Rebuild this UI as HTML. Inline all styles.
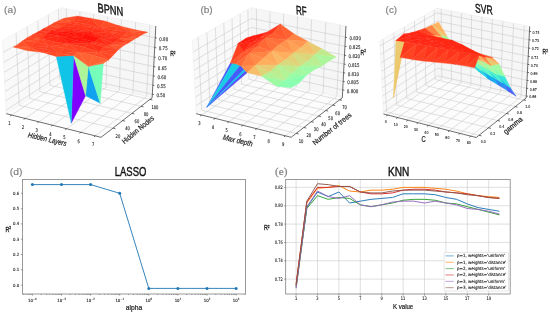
<!DOCTYPE html>
<html><head><meta charset="utf-8"><title>Model hyperparameter tuning</title>
<style>
html,body{margin:0;padding:0;background:#fff;}
svg{display:block;font-family:"Liberation Sans",sans-serif;}
.tk{font-family:"DejaVu Sans","Liberation Sans",sans-serif;fill:#222;stroke:#222;stroke-width:0.12px;}
.ttl{font-family:"Liberation Sans",sans-serif;fill:#111;}
.lab{font-family:"Liberation Sans",sans-serif;fill:#838383;stroke:#838383;stroke-width:0.2px;}
.ax{font-family:"Liberation Sans",sans-serif;fill:#222;}
</style></head><body>
<svg width="550" height="313" viewBox="0 0 550 313">
<rect width="550" height="313" fill="#fff"/>
<g id="pa">
<polygon points="6.26,113.73 61.87,77.33 60.98,7.64 2.4,40.5" fill="#f9f9f9"/>
<polygon points="61.87,77.33 152.17,97.7 155.8,26 60.98,7.64" fill="#f6f6f6"/>
<polygon points="6.26,113.73 101.09,137.32 152.17,97.7 61.87,77.33" fill="#fcfcfc"/>
<g fill="none" stroke="#c2c2c2" stroke-width="0.5">
<polyline points="11.62,115.06 66.98,78.48 66.33,8.68"/>
<polyline points="25.12,118.42 79.87,81.39 79.84,11.3"/>
<polyline points="38.79,121.82 92.91,84.33 93.52,13.95"/>
<polyline points="52.64,125.27 106.1,87.31 107.37,16.63"/>
<polyline points="66.66,128.76 119.46,90.32 121.4,19.34"/>
<polyline points="80.88,132.29 132.97,93.37 135.6,22.09"/>
<polyline points="95.27,135.87 146.65,96.46 149.99,24.88"/>
<polyline points="112.99,128.09 19.19,105.27 16.06,32.84"/>
<polyline points="122.63,120.61 29.67,98.4 27.11,26.64"/>
<polyline points="132.01,113.34 39.88,91.72 37.86,20.61"/>
<polyline points="141.13,106.27 49.82,85.21 48.32,14.74"/>
<polyline points="150.01,99.38 59.51,78.87 58.5,9.03"/>
<polyline points="6.08,110.18 61.83,73.93 152.35,94.22"/>
<polyline points="5.59,100.89 61.71,65.07 152.81,85.11"/>
<polyline points="5.09,91.47 61.6,56.09 153.28,75.89"/>
<polyline points="4.59,81.93 61.48,47.01 153.75,66.54"/>
<polyline points="4.08,72.27 61.36,37.81 154.23,57.08"/>
<polyline points="3.56,62.47 61.24,28.5 154.71,47.49"/>
<polyline points="3.04,52.53 61.12,19.06 155.2,37.77"/>
<polyline points="6.26,113.73 61.87,77.33 152.17,97.7" stroke="#ebebeb"/>
<polyline points="61.87,77.33 60.98,7.64" stroke="#ebebeb"/>
<polyline points="6.26,113.73 2.4,40.5 60.98,7.64 155.8,26" stroke="#ebebeb"/>
</g>
<g stroke-width="0.35" stroke-linejoin="round"><polygon points="58.94,20.54 72.47,21.78 63.96,18.25" fill="#ff532a" stroke="#ff532a"/>
<polygon points="72.47,21.78 77.41,16.05 63.96,18.25" fill="#ff4d27" stroke="#ff4d27"/>
<polygon points="53.86,23.08 72.47,21.78 58.94,20.54" fill="#ff562c" stroke="#ff562c"/>
<polygon points="72.47,21.78 91.1,18.38 77.41,16.05" fill="#ff3e1f" stroke="#ff3e1f"/>
<polygon points="53.86,23.08 67.44,23.08 72.47,21.78" fill="#ff4a26" stroke="#ff4a26"/>
<polygon points="72.47,21.78 86.19,24.01 91.1,18.38" fill="#ff3b1e" stroke="#ff3b1e"/>
<polygon points="48.72,25.92 62.36,27.37 53.86,23.08" fill="#ff4a26" stroke="#ff4a26"/>
<polygon points="86.19,24.01 100.06,28.03 91.1,18.38" fill="#ff3b1e" stroke="#ff3b1e"/>
<polygon points="81.23,25.8 86.19,24.01 72.47,21.78" fill="#ff3e1f" stroke="#ff3e1f"/>
<polygon points="62.36,27.37 67.44,23.08 53.86,23.08" fill="#ff4422" stroke="#ff4422"/>
<polygon points="100.06,28.03 104.95,21.09 91.1,18.38" fill="#ff4724" stroke="#ff4724"/>
<polygon points="67.44,23.08 81.23,25.8 72.47,21.78" fill="#ff3b1e" stroke="#ff3b1e"/>
<polygon points="81.23,25.8 100.06,28.03 86.19,24.01" fill="#ff3e1f" stroke="#ff3e1f"/>
<polygon points="100.06,28.03 118.93,25.73 104.95,21.09" fill="#ff4d27" stroke="#ff4d27"/>
<polygon points="43.5,28.84 62.36,27.37 48.72,25.92" fill="#ff4724" stroke="#ff4724"/>
<polygon points="62.36,27.37 81.23,25.8 67.44,23.08" fill="#ff381c" stroke="#ff381c"/>
<polygon points="100.06,28.03 114.13,30.47 118.93,25.73" fill="#ff4422" stroke="#ff4422"/>
<polygon points="81.23,25.8 95.2,28.7 100.06,28.03" fill="#ff381c" stroke="#ff381c"/>
<polygon points="62.36,27.37 76.2,29.87 81.23,25.8" fill="#ff3219" stroke="#ff3219"/>
<polygon points="43.5,28.84 57.19,29.78 62.36,27.37" fill="#ff4121" stroke="#ff4121"/>
<polygon points="109.32,32.87 114.13,30.47 100.06,28.03" fill="#ff3b1e" stroke="#ff3b1e"/>
<polygon points="114.13,30.47 128.44,31.21 118.93,25.73" fill="#ff4724" stroke="#ff4724"/>
<polygon points="128.44,31.21 133.1,29.22 118.93,25.73" fill="#ff532a" stroke="#ff532a"/>
<polygon points="95.2,28.7 109.32,32.87 100.06,28.03" fill="#ff351b" stroke="#ff351b"/>
<polygon points="76.2,29.87 90.23,31.87 81.23,25.8" fill="#ff351b" stroke="#ff351b"/>
<polygon points="90.23,31.87 95.2,28.7 81.23,25.8" fill="#ff351b" stroke="#ff351b"/>
<polygon points="71.1,31.68 76.2,29.87 62.36,27.37" fill="#ff2914" stroke="#ff2914"/>
<polygon points="38.21,31.75 51.93,31.49 43.5,28.84" fill="#ff351b" stroke="#ff351b"/>
<polygon points="57.19,29.78 71.1,31.68 62.36,27.37" fill="#ff2c16" stroke="#ff2c16"/>
<polygon points="51.93,31.49 57.19,29.78 43.5,28.84" fill="#ff351b" stroke="#ff351b"/>
<polygon points="128.44,31.21 147.45,32.3 133.1,29.22" fill="#ff562c" stroke="#ff562c"/>
<polygon points="109.32,32.87 128.44,31.21 114.13,30.47" fill="#ff3e1f" stroke="#ff3e1f"/>
<polygon points="90.23,31.87 109.32,32.87 95.2,28.7" fill="#ff2f18" stroke="#ff2f18"/>
<polygon points="71.1,31.68 90.23,31.87 76.2,29.87" fill="#ff2914" stroke="#ff2914"/>
<polygon points="32.84,34.65 51.93,31.49 38.21,31.75" fill="#ff351b" stroke="#ff351b"/>
<polygon points="51.93,31.49 71.1,31.68 57.19,29.78" fill="#ff2211" stroke="#ff2211"/>
<polygon points="128.44,31.21 142.87,34.31 147.45,32.3" fill="#ff4d27" stroke="#ff4d27"/>
<polygon points="109.32,32.87 123.65,35.15 128.44,31.21" fill="#ff3e1f" stroke="#ff3e1f"/>
<polygon points="90.23,31.87 104.41,36.59 109.32,32.87" fill="#ff3219" stroke="#ff3219"/>
<polygon points="71.1,31.68 85.2,33.46 90.23,31.87" fill="#ff2211" stroke="#ff2211"/>
<polygon points="51.93,31.49 65.92,34.2 71.1,31.68" fill="#ff190d" stroke="#ff190d"/>
<polygon points="32.84,34.65 46.6,33.69 51.93,31.49" fill="#ff351b" stroke="#ff351b"/>
<polygon points="104.41,36.59 118.81,38.75 109.32,32.87" fill="#ff351b" stroke="#ff351b"/>
<polygon points="118.81,38.75 123.65,35.15 109.32,32.87" fill="#ff381c" stroke="#ff381c"/>
<polygon points="138.2,37.02 142.87,34.31 128.44,31.21" fill="#ff4d27" stroke="#ff4d27"/>
<polygon points="123.65,35.15 138.2,37.02 128.44,31.21" fill="#ff4a26" stroke="#ff4a26"/>
<polygon points="99.48,37.88 104.41,36.59 90.23,31.87" fill="#ff2914" stroke="#ff2914"/>
<polygon points="85.2,33.46 99.48,37.88 90.23,31.87" fill="#ff1c0e" stroke="#ff1c0e"/>
<polygon points="27.4,37.6 41.26,38.65 32.84,34.65" fill="#ff4724" stroke="#ff4724"/>
<polygon points="80.09,37.95 85.2,33.46 71.1,31.68" fill="#ff190d" stroke="#ff190d"/>
<polygon points="65.92,34.2 80.09,37.95 71.1,31.68" fill="#ff190d" stroke="#ff190d"/>
<polygon points="41.26,38.65 46.6,33.69 32.84,34.65" fill="#ff4121" stroke="#ff4121"/>
<polygon points="60.65,36.01 65.92,34.2 51.93,31.49" fill="#ff1309" stroke="#ff1309"/>
<polygon points="46.6,33.69 60.65,36.01 51.93,31.49" fill="#ff190d" stroke="#ff190d"/>
<polygon points="118.81,38.75 138.2,37.02 123.65,35.15" fill="#ff4422" stroke="#ff4422"/>
<polygon points="99.48,37.88 118.81,38.75 104.41,36.59" fill="#ff2c16" stroke="#ff2c16"/>
<polygon points="80.09,37.95 99.48,37.88 85.2,33.46" fill="#ff1309" stroke="#ff1309"/>
<polygon points="21.91,41.44 41.26,38.65 27.4,37.6" fill="#ff4724" stroke="#ff4724"/>
<polygon points="60.65,36.01 80.09,37.95 65.92,34.2" fill="#ff1309" stroke="#ff1309"/>
<polygon points="41.26,38.65 60.65,36.01 46.6,33.69" fill="#ff2914" stroke="#ff2914"/>
<polygon points="99.48,37.88 113.91,42.45 118.81,38.75" fill="#ff2914" stroke="#ff2914"/>
<polygon points="118.81,38.75 133.46,39.78 138.2,37.02" fill="#ff562c" stroke="#ff562c"/>
<polygon points="80.09,37.95 94.43,42.07 99.48,37.88" fill="#ff1309" stroke="#ff1309"/>
<polygon points="21.91,41.44 35.8,41.74 41.26,38.65" fill="#ff4a26" stroke="#ff4a26"/>
<polygon points="60.65,36.01 74.91,40.15 80.09,37.95" fill="#ff1309" stroke="#ff1309"/>
<polygon points="41.26,38.65 55.37,42.11 60.65,36.01" fill="#ff2914" stroke="#ff2914"/>
<polygon points="113.91,42.45 128.64,42.66 118.81,38.75" fill="#ff381c" stroke="#ff381c"/>
<polygon points="108.95,45.22 113.91,42.45 99.48,37.88" fill="#ff3219" stroke="#ff3219"/>
<polygon points="128.64,42.66 133.46,39.78 118.81,38.75" fill="#ff4d27" stroke="#ff4d27"/>
<polygon points="94.43,42.07 108.95,45.22 99.48,37.88" fill="#ff2914" stroke="#ff2914"/>
<polygon points="16.36,45.4 30.33,47.14 21.91,41.44" fill="#ff5029" stroke="#ff5029"/>
<polygon points="89.34,43.12 94.43,42.07 80.09,37.95" fill="#ff1309" stroke="#ff1309"/>
<polygon points="30.33,47.14 35.8,41.74 21.91,41.44" fill="#ff4724" stroke="#ff4724"/>
<polygon points="50,46.24 55.37,42.11 41.26,38.65" fill="#ff3e1f" stroke="#ff3e1f"/>
<polygon points="74.91,40.15 89.34,43.12 80.09,37.95" fill="#ff1309" stroke="#ff1309"/>
<polygon points="35.8,41.74 50,46.24 41.26,38.65" fill="#ff4422" stroke="#ff4422"/>
<polygon points="55.37,42.11 69.66,44.05 60.65,36.01" fill="#ff2613" stroke="#ff2613"/>
<polygon points="69.66,44.05 74.91,40.15 60.65,36.01" fill="#ff1c0e" stroke="#ff1c0e"/>
<polygon points="13.53,47 30.33,47.14 16.36,45.4" fill="#ff5029" stroke="#ff5029"/>
<polygon points="108.95,45.22 128.64,42.66 113.91,42.45" fill="#ff4121" stroke="#ff4121"/>
<polygon points="89.34,43.12 108.95,45.22 94.43,42.07" fill="#ff2c16" stroke="#ff2c16"/>
<polygon points="50,46.24 69.66,44.05 55.37,42.11" fill="#ff3b1e" stroke="#ff3b1e"/>
<polygon points="30.33,47.14 50,46.24 35.8,41.74" fill="#ff4121" stroke="#ff4121"/>
<polygon points="69.66,44.05 89.34,43.12 74.91,40.15" fill="#ff1f10" stroke="#ff1f10"/>
<polygon points="13.53,47 27.61,50.68 30.33,47.14" fill="#ff592d" stroke="#ff592d"/>
<polygon points="71.29,123.2 85.58,95.8 73.56,55.4" fill="#8000ff" stroke="#8000ff"/>
<polygon points="108.95,45.22 123.75,45.6 128.64,42.66" fill="#ff5029" stroke="#ff5029"/>
<polygon points="89.34,43.12 103.94,47.08 108.95,45.22" fill="#ff381c" stroke="#ff381c"/>
<polygon points="30.33,47.14 44.51,48.7 50,46.24" fill="#ff3e1f" stroke="#ff3e1f"/>
<polygon points="50,46.24 64.33,47.71 69.66,44.05" fill="#ff4422" stroke="#ff4422"/>
<polygon points="69.66,44.05 84.15,46.97 89.34,43.12" fill="#ff3219" stroke="#ff3219"/>
<polygon points="27.61,50.68 41.8,52.15 30.33,47.14" fill="#ff532a" stroke="#ff532a"/>
<polygon points="56.26,56.5 71.29,123.2 73.56,55.4" fill="#0fc4e7" stroke="#0fc4e7"/>
<polygon points="41.8,52.15 44.51,48.7 30.33,47.14" fill="#ff4121" stroke="#ff4121"/>
<polygon points="103.94,47.08 118.77,49.29 108.95,45.22" fill="#ff4a26" stroke="#ff4a26"/>
<polygon points="118.77,49.29 123.75,45.6 108.95,45.22" fill="#ff532a" stroke="#ff532a"/>
<polygon points="98.8,52.25 103.94,47.08 89.34,43.12" fill="#ff2f18" stroke="#ff2f18"/>
<polygon points="84.15,46.97 98.8,52.25 89.34,43.12" fill="#ff3219" stroke="#ff3219"/>
<polygon points="58.96,53.23 64.33,47.71 50,46.24" fill="#ff4724" stroke="#ff4724"/>
<polygon points="44.51,48.7 58.96,53.23 50,46.24" fill="#ff4121" stroke="#ff4121"/>
<polygon points="78.89,52.28 84.15,46.97 69.66,44.05" fill="#ff4121" stroke="#ff4121"/>
<polygon points="64.33,47.71 78.89,52.28 69.66,44.05" fill="#ff4422" stroke="#ff4422"/>
<polygon points="41.8,52.15 58.96,53.23 44.51,48.7" fill="#ff4121" stroke="#ff4121"/>
<polygon points="98.8,52.25 118.77,49.29 103.94,47.08" fill="#ff4121" stroke="#ff4121"/>
<polygon points="78.89,52.28 98.8,52.25 84.15,46.97" fill="#ff4422" stroke="#ff4422"/>
<polygon points="58.96,53.23 78.89,52.28 64.33,47.71" fill="#ff4422" stroke="#ff4422"/>
<polygon points="85.58,95.8 100.2,103.3 88.33,66.3" fill="#10a2f0" stroke="#10a2f0"/>
<polygon points="41.8,52.15 56.26,56.5 58.96,53.23" fill="#ff4a26" stroke="#ff4a26"/>
<polygon points="78.89,52.28 93.63,55.41 98.8,52.25" fill="#ff4d27" stroke="#ff4d27"/>
<polygon points="98.8,52.25 113.68,54.8 118.77,49.29" fill="#ff4724" stroke="#ff4724"/>
<polygon points="58.96,53.23 73.56,55.4 78.89,52.28" fill="#ff4a26" stroke="#ff4a26"/>
<polygon points="85.58,95.8 88.33,66.3 73.56,55.4" fill="#aef498" stroke="#aef498"/>
<polygon points="56.26,56.5 73.56,55.4 58.96,53.23" fill="#ff4d27" stroke="#ff4d27"/>
<polygon points="88.33,66.3 93.63,55.41 78.89,52.28" fill="#ff6232" stroke="#ff6232"/>
<polygon points="73.56,55.4 88.33,66.3 78.89,52.28" fill="#ff6232" stroke="#ff6232"/>
<polygon points="108.54,59.91 113.68,54.8 98.8,52.25" fill="#ff4724" stroke="#ff4724"/>
<polygon points="93.63,55.41 108.54,59.91 98.8,52.25" fill="#ff4d27" stroke="#ff4d27"/>
<polygon points="100.2,103.3 103.36,63.4 88.33,66.3" fill="#74feba" stroke="#74feba"/>
<polygon points="88.33,66.3 108.54,59.91 93.63,55.41" fill="#ff6232" stroke="#ff6232"/>
<polygon points="88.33,66.3 103.36,63.4 108.54,59.91" fill="#ff6b37" stroke="#ff6b37"/></g>
<g fill="none" stroke="#303030" stroke-width="0.7">
<polyline points="6.26,113.73 101.09,137.32 152.17,97.7 155.8,26"/>
<polyline points="11.62,115.06 10.13,116.04"/>
<polyline points="25.12,118.42 23.64,119.42"/>
<polyline points="38.79,121.82 37.33,122.83"/>
<polyline points="52.64,125.27 51.2,126.29"/>
<polyline points="66.66,128.76 65.24,129.79"/>
<polyline points="80.88,132.29 79.47,133.34"/>
<polyline points="95.27,135.87 93.89,136.94"/>
<polyline points="112.99,128.09 115.44,128.69"/>
<polyline points="122.63,120.61 125.06,121.19"/>
<polyline points="132.01,113.34 134.41,113.91"/>
<polyline points="141.13,106.27 143.51,106.82"/>
<polyline points="150.01,99.38 152.37,99.91"/>
<polyline points="152.35,94.22 153.95,94.52"/>
<polyline points="152.81,85.11 154.41,85.41"/>
<polyline points="153.28,75.89 154.88,76.19"/>
<polyline points="153.75,66.54 155.35,66.84"/>
<polyline points="154.23,57.08 155.83,57.38"/>
<polyline points="154.71,47.49 156.31,47.79"/>
<polyline points="155.2,37.77 156.8,38.07"/>
</g>
<g class="tk" font-size="5.0" text-anchor="middle">
<text transform="translate(9.42,125.36) scale(0.74,1)">1</text>
<text transform="translate(22.92,128.72) scale(0.74,1)">2</text>
<text transform="translate(36.59,132.12) scale(0.74,1)">3</text>
<text transform="translate(50.44,135.57) scale(0.74,1)">4</text>
<text transform="translate(64.46,139.06) scale(0.74,1)">5</text>
<text transform="translate(78.68,142.59) scale(0.74,1)">6</text>
<text transform="translate(93.07,146.17) scale(0.74,1)">7</text>
<text transform="translate(117.89,137.59) scale(0.74,1)">20</text>
<text transform="translate(127.53,130.11) scale(0.74,1)">40</text>
<text transform="translate(136.91,122.84) scale(0.74,1)">60</text>
<text transform="translate(146.03,115.77) scale(0.74,1)">80</text>
<text transform="translate(154.91,108.88) scale(0.74,1)">100</text>
</g><g class="tk" font-size="5.0" text-anchor="start">
<text transform="translate(156.45,97.22) scale(0.8,1)">0.50</text>
<text transform="translate(156.91,88.11) scale(0.8,1)">0.55</text>
<text transform="translate(157.38,78.89) scale(0.8,1)">0.60</text>
<text transform="translate(157.85,69.54) scale(0.8,1)">0.65</text>
<text transform="translate(158.33,60.08) scale(0.8,1)">0.70</text>
<text transform="translate(158.81,50.49) scale(0.8,1)">0.75</text>
<text transform="translate(159.3,40.77) scale(0.8,1)">0.80</text>
</g>
</g>
<g id="pb">
<polygon points="196.22,113.7 251.9,77.31 251.01,7.63 192.35,40.48" fill="#f9f9f9"/>
<polygon points="251.9,77.31 342.33,97.68 345.96,25.99 251.01,7.63" fill="#f6f6f6"/>
<polygon points="196.22,113.7 291.18,137.29 342.33,97.68 251.9,77.31" fill="#fcfcfc"/>
<g fill="none" stroke="#c2c2c2" stroke-width="0.5">
<polyline points="201.58,115.03 257.02,78.46 256.37,8.67"/>
<polyline points="215.1,118.39 269.93,81.37 269.9,11.29"/>
<polyline points="228.79,121.79 282.98,84.31 283.6,13.94"/>
<polyline points="242.66,125.24 296.2,87.28 297.47,16.62"/>
<polyline points="256.7,128.73 309.57,90.3 311.52,19.33"/>
<polyline points="270.94,132.26 323.11,93.35 325.74,22.08"/>
<polyline points="285.35,135.84 336.81,96.43 340.15,24.87"/>
<polyline points="296.22,133.38 201.7,110.12 198.14,37.24"/>
<polyline points="303.85,127.48 209.98,104.71 206.89,32.34"/>
<polyline points="311.31,121.7 218.09,99.4 215.44,27.55"/>
<polyline points="318.62,116.04 226.04,94.21 223.82,22.86"/>
<polyline points="325.77,110.51 233.83,89.12 232.02,18.27"/>
<polyline points="332.77,105.08 241.47,84.13 240.05,13.77"/>
<polyline points="339.63,99.77 248.95,79.24 247.91,9.37"/>
<polyline points="195.8,105.79 251.81,69.75 342.73,89.92"/>
<polyline points="195.34,97.09 251.7,61.46 343.16,81.4"/>
<polyline points="194.88,88.29 251.59,53.06 343.6,72.77"/>
<polyline points="194.4,79.37 251.48,44.57 344.04,64.04"/>
<polyline points="193.93,70.34 251.37,35.99 344.49,55.2"/>
<polyline points="193.44,61.2 251.26,27.3 344.94,46.25"/>
<polyline points="192.96,51.94 251.15,18.5 345.4,37.19"/>
<polyline points="196.22,113.7 251.9,77.31 342.33,97.68" stroke="#ebebeb"/>
<polyline points="251.9,77.31 251.01,7.63" stroke="#ebebeb"/>
<polyline points="196.22,113.7 192.35,40.48 251.01,7.63 345.96,25.99" stroke="#ebebeb"/>
</g>
<g stroke-width="0.35" stroke-linejoin="round"><polygon points="206.84,107.16 230.39,63.12 232.6,63.37" fill="#4856fb" stroke="#4856fb"/>
<polygon points="206.84,107.16 232.6,63.37 235.69,63.7 240.09,65.62" fill="#18cde4" stroke="#18cde4"/>
<polygon points="206.84,107.16 240.09,65.62 241.26,66.13 244.18,69.42" fill="#445cfb" stroke="#445cfb"/>
<polygon points="206.84,107.16 244.18,69.42 245.66,71.08" fill="#0fc4e7" stroke="#0fc4e7"/>
<polygon points="206.84,107.16 245.66,71.08 247.15,72.75" fill="#4e4dfc" stroke="#4e4dfc"/>
<polygon points="259.27,37.7 266.9,32.19 253.58,35.77" fill="#ff190d" stroke="#ff190d"/>
<polygon points="245.85,38.27 259.27,37.7 253.58,35.77" fill="#ff1309" stroke="#ff1309"/>
<polygon points="238,43.49 259.27,37.7 245.85,38.27" fill="#ff190d" stroke="#ff190d"/>
<polygon points="259.27,37.7 280.53,24.23 266.9,32.19" fill="#ff2914" stroke="#ff2914"/>
<polygon points="238,43.49 251.49,42.42 259.27,37.7" fill="#ff190d" stroke="#ff190d"/>
<polygon points="259.27,37.7 272.93,33.34 280.53,24.23" fill="#ff351b" stroke="#ff351b"/>
<polygon points="230.39,63.12 243.62,51.74 238,43.49" fill="#ff4422" stroke="#ff4422"/>
<polygon points="286.78,39.77 294.25,33.98 280.53,24.23" fill="#ff6232" stroke="#ff6232"/>
<polygon points="286.78,39.77 308.07,41.45 294.25,33.98" fill="#ff8444" stroke="#ff8444"/>
<polygon points="272.93,33.34 286.78,39.77 280.53,24.23" fill="#ff592d" stroke="#ff592d"/>
<polygon points="243.62,51.74 251.49,42.42 238,43.49" fill="#ff2613" stroke="#ff2613"/>
<polygon points="251.49,42.42 265.2,38.08 259.27,37.7" fill="#ff2613" stroke="#ff2613"/>
<polygon points="265.2,38.08 272.93,33.34 259.27,37.7" fill="#ff3b1e" stroke="#ff3b1e"/>
<polygon points="286.78,39.77 300.7,48.05 308.07,41.45" fill="#ff9850" stroke="#ff9850"/>
<polygon points="314.74,54.58 321.98,48.78 308.07,41.45" fill="#e8cb72" stroke="#e8cb72"/>
<polygon points="235.69,63.7 243.62,51.74 230.39,63.12" fill="#ff562c" stroke="#ff562c"/>
<polygon points="314.74,54.58 335.95,56.88 321.98,48.78" fill="#c2ea8c" stroke="#c2ea8c"/>
<polygon points="300.7,48.05 314.74,54.58 308.07,41.45" fill="#f6be68" stroke="#f6be68"/>
<polygon points="265.2,38.08 286.78,39.77 272.93,33.34" fill="#ff5c2f" stroke="#ff5c2f"/>
<polygon points="243.62,51.74 265.2,38.08 251.49,42.42" fill="#ff3219" stroke="#ff3219"/>
<polygon points="293.21,52.97 300.7,48.05 286.78,39.77" fill="#ffa256" stroke="#ffa256"/>
<polygon points="314.74,54.58 328.9,61.16 335.95,56.88" fill="#acf59a" stroke="#acf59a"/>
<polygon points="265.2,38.08 279.17,44.59 286.78,39.77" fill="#ff6d38" stroke="#ff6d38"/>
<polygon points="293.21,52.97 314.74,54.58 300.7,48.05" fill="#f0c46c" stroke="#f0c46c"/>
<polygon points="279.17,44.59 293.21,52.97 286.78,39.77" fill="#ff934d" stroke="#ff934d"/>
<polygon points="243.62,51.74 257.34,46.56 265.2,38.08" fill="#ff4a26" stroke="#ff4a26"/>
<polygon points="293.21,52.97 307.33,61.4 314.74,54.58" fill="#dcd67a" stroke="#dcd67a"/>
<polygon points="235.69,63.7 249.32,53.35 243.62,51.74" fill="#ff562c" stroke="#ff562c"/>
<polygon points="271.39,51.34 279.17,44.59 265.2,38.08" fill="#ff733b" stroke="#ff733b"/>
<polygon points="321.66,66.26 328.9,61.16 314.74,54.58" fill="#abf69b" stroke="#abf69b"/>
<polygon points="257.34,46.56 271.39,51.34 265.2,38.08" fill="#ff6835" stroke="#ff6835"/>
<polygon points="249.32,53.35 257.34,46.56 243.62,51.74" fill="#ff562c" stroke="#ff562c"/>
<polygon points="307.33,61.4 321.66,66.26 314.74,54.58" fill="#bbee91" stroke="#bbee91"/>
<polygon points="271.39,51.34 293.21,52.97 279.17,44.59" fill="#ff9850" stroke="#ff9850"/>
<polygon points="299.82,66.53 307.33,61.4 293.21,52.97" fill="#d4dd80" stroke="#d4dd80"/>
<polygon points="271.39,51.34 285.55,59.82 293.21,52.97" fill="#ffae5e" stroke="#ffae5e"/>
<polygon points="249.32,53.35 271.39,51.34 257.34,46.56" fill="#ff703a" stroke="#ff703a"/>
<polygon points="285.55,59.82 299.82,66.53 293.21,52.97" fill="#e2d176" stroke="#e2d176"/>
<polygon points="241.26,66.13 249.32,53.35 235.69,63.7" fill="#ff6b37" stroke="#ff6b37"/>
<polygon points="299.82,66.53 321.66,66.26 307.33,61.4" fill="#b2f396" stroke="#b2f396"/>
<polygon points="249.32,53.35 263.46,58.22 271.39,51.34" fill="#ff8444" stroke="#ff8444"/>
<polygon points="277.74,64.97 285.55,59.82 271.39,51.34" fill="#fbb965" stroke="#fbb965"/>
<polygon points="299.82,66.53 314.32,69.65 321.66,66.26" fill="#a0faa1" stroke="#a0faa1"/>
<polygon points="277.74,64.97 299.82,66.53 285.55,59.82" fill="#d9da7d" stroke="#d9da7d"/>
<polygon points="263.46,58.22 277.74,64.97 271.39,51.34" fill="#ffa95b" stroke="#ffa95b"/>
<polygon points="255.38,65.23 263.46,58.22 249.32,53.35" fill="#ff8947" stroke="#ff8947"/>
<polygon points="241.26,66.13 255.38,65.23 249.32,53.35" fill="#ff7e41" stroke="#ff7e41"/>
<polygon points="277.74,64.97 292.11,73.6 299.82,66.53" fill="#c0eb8d" stroke="#c0eb8d"/>
<polygon points="255.38,65.23 277.74,64.97 263.46,58.22" fill="#ffae5e" stroke="#ffae5e"/>
<polygon points="306.75,74.97 314.32,69.65 299.82,66.53" fill="#9cfba4" stroke="#9cfba4"/>
<polygon points="292.11,73.6 306.75,74.97 299.82,66.53" fill="#a4f89f" stroke="#a4f89f"/>
<polygon points="284.26,80.81 292.11,73.6 277.74,64.97" fill="#b2f396" stroke="#b2f396"/>
<polygon points="255.38,65.23 269.77,72.07 277.74,64.97" fill="#e8cb72" stroke="#e8cb72"/>
<polygon points="247.15,72.75 255.38,65.23 241.26,66.13" fill="#ff914c" stroke="#ff914c"/>
<polygon points="269.77,72.07 284.26,80.81 277.74,64.97" fill="#bced8f" stroke="#bced8f"/>
<polygon points="284.26,80.81 306.75,74.97 292.11,73.6" fill="#96fca7" stroke="#96fca7"/>
<polygon points="261.62,76.17 269.77,72.07 255.38,65.23" fill="#ded579" stroke="#ded579"/>
<polygon points="247.15,72.75 261.62,76.17 255.38,65.23" fill="#f6be68" stroke="#f6be68"/>
<polygon points="284.26,80.81 298.95,83.17 306.75,74.97" fill="#8bfeae" stroke="#8bfeae"/>
<polygon points="261.62,76.17 284.26,80.81 269.77,72.07" fill="#b2f396" stroke="#b2f396"/>
<polygon points="261.62,76.17 276.25,86.31 284.26,80.81" fill="#9efaa2" stroke="#9efaa2"/>
<polygon points="291.07,87.81 298.95,83.17 284.26,80.81" fill="#86ffb0" stroke="#86ffb0"/>
<polygon points="276.25,86.31 291.07,87.81 284.26,80.81" fill="#8bfeae" stroke="#8bfeae"/></g>
<g fill="none" stroke="#303030" stroke-width="0.7">
<polyline points="196.22,113.7 291.18,137.29 342.33,97.68 345.96,25.99"/>
<polyline points="201.58,115.03 200.09,116.02"/>
<polyline points="215.1,118.39 213.62,119.39"/>
<polyline points="228.79,121.79 227.33,122.8"/>
<polyline points="242.66,125.24 241.21,126.26"/>
<polyline points="256.7,128.73 255.28,129.76"/>
<polyline points="270.94,132.26 269.53,133.31"/>
<polyline points="285.35,135.84 283.97,136.91"/>
<polyline points="296.22,133.38 298.69,133.99"/>
<polyline points="303.85,127.48 306.3,128.07"/>
<polyline points="311.31,121.7 313.75,122.28"/>
<polyline points="318.62,116.04 321.03,116.61"/>
<polyline points="325.77,110.51 328.17,111.07"/>
<polyline points="332.77,105.08 335.15,105.63"/>
<polyline points="339.63,99.77 341.99,100.31"/>
<polyline points="342.73,89.92 344.33,90.22"/>
<polyline points="343.16,81.4 344.76,81.7"/>
<polyline points="343.6,72.77 345.2,73.07"/>
<polyline points="344.04,64.04 345.64,64.34"/>
<polyline points="344.49,55.2 346.09,55.5"/>
<polyline points="344.94,46.25 346.54,46.55"/>
<polyline points="345.4,37.19 347,37.49"/>
</g>
<g class="tk" font-size="5.0" text-anchor="middle">
<text transform="translate(199.38,125.33) scale(0.74,1)">3</text>
<text transform="translate(212.9,128.69) scale(0.74,1)">4</text>
<text transform="translate(226.59,132.09) scale(0.74,1)">5</text>
<text transform="translate(240.46,135.54) scale(0.74,1)">6</text>
<text transform="translate(254.5,139.03) scale(0.74,1)">7</text>
<text transform="translate(268.74,142.56) scale(0.74,1)">8</text>
<text transform="translate(283.15,146.14) scale(0.74,1)">9</text>
<text transform="translate(301.12,142.88) scale(0.74,1)">10</text>
<text transform="translate(308.75,136.98) scale(0.74,1)">20</text>
<text transform="translate(316.21,131.2) scale(0.74,1)">30</text>
<text transform="translate(323.52,125.54) scale(0.74,1)">40</text>
<text transform="translate(330.67,120.01) scale(0.74,1)">50</text>
<text transform="translate(337.67,114.58) scale(0.74,1)">60</text>
<text transform="translate(344.53,109.27) scale(0.74,1)">70</text>
</g><g class="tk" font-size="5.0" text-anchor="start">
<text transform="translate(346.83,92.92) scale(0.8,1)">0.800</text>
<text transform="translate(347.26,84.4) scale(0.8,1)">0.805</text>
<text transform="translate(347.7,75.77) scale(0.8,1)">0.810</text>
<text transform="translate(348.14,67.04) scale(0.8,1)">0.815</text>
<text transform="translate(348.59,58.2) scale(0.8,1)">0.820</text>
<text transform="translate(349.04,49.25) scale(0.8,1)">0.825</text>
<text transform="translate(349.5,40.19) scale(0.8,1)">0.830</text>
</g>
</g>
<g id="pc">
<polygon points="383.47,113.98 437.85,77.64 436.97,8.09 379.69,40.88" fill="#f9f9f9"/>
<polygon points="437.85,77.64 526.16,97.98 529.7,26.42 436.97,8.09" fill="#f6f6f6"/>
<polygon points="383.47,113.98 476.2,137.53 526.16,97.98 437.85,77.64" fill="#fcfcfc"/>
<g fill="none" stroke="#c2c2c2" stroke-width="0.5">
<polyline points="387.65,115.04 441.85,78.56 441.16,8.92"/>
<polyline points="397.69,117.59 451.43,80.77 451.21,10.91"/>
<polyline points="407.83,120.16 461.1,83 461.35,12.91"/>
<polyline points="418.07,122.76 470.86,85.25 471.59,14.94"/>
<polyline points="428.4,125.39 480.71,87.51 481.93,16.98"/>
<polyline points="438.84,128.04 490.64,89.8 492.37,19.04"/>
<polyline points="449.38,130.72 500.67,92.11 502.91,21.12"/>
<polyline points="460.03,133.42 510.8,94.44 513.55,23.23"/>
<polyline points="470.78,136.15 521.01,96.8 524.29,25.35"/>
<polyline points="479.07,135.25 386.58,111.9 382.99,39"/>
<polyline points="488.48,127.81 396.8,105.07 393.77,32.82"/>
<polyline points="497.63,120.56 406.75,98.42 404.27,26.82"/>
<polyline points="506.54,113.51 416.45,91.94 414.48,20.97"/>
<polyline points="515.21,106.65 425.9,85.62 424.43,15.27"/>
<polyline points="523.66,99.96 435.12,79.46 434.12,9.73"/>
<polyline points="383.36,111.93 437.82,75.69 526.26,95.98"/>
<polyline points="382.95,104.01 437.73,68.13 526.64,88.21"/>
<polyline points="382.54,95.99 437.63,60.48 527.03,80.35"/>
<polyline points="382.12,87.88 437.53,52.75 527.42,72.41"/>
<polyline points="381.7,79.68 437.44,44.95 527.82,64.38"/>
<polyline points="381.27,71.38 437.34,37.05 528.23,56.25"/>
<polyline points="380.83,62.99 437.24,29.08 528.63,48.04"/>
<polyline points="380.39,54.5 437.14,21.01 529.04,39.74"/>
<polyline points="379.95,45.91 437.03,12.86 529.46,31.34"/>
<polyline points="383.47,113.98 437.85,77.64 526.16,97.98" stroke="#ebebeb"/>
<polyline points="437.85,77.64 436.97,8.09" stroke="#ebebeb"/>
<polyline points="383.47,113.98 379.69,40.88 436.97,8.09 529.7,26.42" stroke="#ebebeb"/>
</g>
<g stroke-width="0.35" stroke-linejoin="round"><polygon points="462.07,56.28 478.38,71.19 468.44,61.91" fill="#3febd5" stroke="#3febd5"/>
<polygon points="451.97,48.05 468.44,61.91 458.49,51.83" fill="#74feba" stroke="#74feba"/>
<polygon points="472.19,63.91 488.35,78.91 478.38,71.19" fill="#10c6e6" stroke="#10c6e6"/>
<polygon points="482.34,70.96 498.38,85.09 488.35,78.91" fill="#169bf2" stroke="#169bf2"/>
<polygon points="440.33,35.56 458.49,51.83 447.02,36.22" fill="#a6f89d" stroke="#a6f89d"/>
<polygon points="492.55,77.04 508.45,91.3 498.38,85.09" fill="#3473f8" stroke="#3473f8"/>
<polygon points="451.97,48.05 462.07,56.28 468.44,61.91" fill="#7affb7" stroke="#7affb7"/>
<polygon points="431.8,25.35 447.02,36.22 438.55,21.93" fill="#feb562" stroke="#feb562"/>
<polygon points="462.07,56.28 472.19,63.91 478.38,71.19" fill="#4af2cf" stroke="#4af2cf"/>
<polygon points="440.33,35.56 451.97,48.05 458.49,51.83" fill="#aef498" stroke="#aef498"/>
<polygon points="502.8,83.04 516.02,96.16 508.45,91.3" fill="#504afc" stroke="#504afc"/>
<polygon points="472.19,63.91 482.34,70.96 488.35,78.91" fill="#22d6e0" stroke="#22d6e0"/>
<polygon points="431.8,25.35 440.33,35.56 447.02,36.22" fill="#e8cb72" stroke="#e8cb72"/>
<polygon points="482.34,70.96 492.55,77.04 498.38,85.09" fill="#02b7eb" stroke="#02b7eb"/>
<polygon points="492.55,77.04 502.8,83.04 508.45,91.3" fill="#1c93f3" stroke="#1c93f3"/>
<polygon points="502.8,83.04 510.5,87.96 516.02,96.16" fill="#3670f8" stroke="#3670f8"/>
<polygon points="433.48,34.88 451.97,48.05 440.33,35.56" fill="#f6be68" stroke="#f6be68"/>
<polygon points="445.24,44.16 462.07,56.28 451.97,48.05" fill="#b6f193" stroke="#b6f193"/>
<polygon points="424.9,28.34 440.33,35.56 431.8,25.35" fill="#ff8444" stroke="#ff8444"/>
<polygon points="455.49,50.46 472.19,63.91 462.07,56.28" fill="#90feab" stroke="#90feab"/>
<polygon points="465.78,56.37 482.34,70.96 472.19,63.91" fill="#6dfdbf" stroke="#6dfdbf"/>
<polygon points="424.9,28.34 433.48,34.88 440.33,35.56" fill="#ff7b40" stroke="#ff7b40"/>
<polygon points="433.48,34.88 445.24,44.16 451.97,48.05" fill="#fbb965" stroke="#fbb965"/>
<polygon points="476.11,62.72 492.55,77.04 482.34,70.96" fill="#4df3ce" stroke="#4df3ce"/>
<polygon points="445.24,44.16 455.49,50.46 462.07,56.28" fill="#c0eb8d" stroke="#c0eb8d"/>
<polygon points="486.5,68.69 502.8,83.04 492.55,77.04" fill="#30e1da" stroke="#30e1da"/>
<polygon points="455.49,50.46 465.78,56.37 472.19,63.91" fill="#a0faa1" stroke="#a0faa1"/>
<polygon points="496.93,74.48 510.5,87.96 502.8,83.04" fill="#17cbe4" stroke="#17cbe4"/>
<polygon points="465.78,56.37 476.11,62.72 482.34,70.96" fill="#80ffb4" stroke="#80ffb4"/>
<polygon points="476.11,62.72 486.5,68.69 492.55,77.04" fill="#62fbc4" stroke="#62fbc4"/>
<polygon points="417.85,30.81 433.48,34.88 424.9,28.34" fill="#ff4121" stroke="#ff4121"/>
<polygon points="426.45,34.19 445.24,44.16 433.48,34.88" fill="#ff6d38" stroke="#ff6d38"/>
<polygon points="486.5,68.69 496.93,74.48 502.8,83.04" fill="#48f1d0" stroke="#48f1d0"/>
<polygon points="438.31,40.14 455.49,50.46 445.24,44.16" fill="#fbb965" stroke="#fbb965"/>
<polygon points="496.93,74.48 504.87,76.53 510.5,87.96" fill="#37e6d8" stroke="#37e6d8"/>
<polygon points="417.85,30.81 426.45,34.19 433.48,34.88" fill="#ff351b" stroke="#ff351b"/>
<polygon points="448.69,44.44 465.78,56.37 455.49,50.46" fill="#e0d377" stroke="#e0d377"/>
<polygon points="426.45,34.19 438.31,40.14 445.24,44.16" fill="#ff7e41" stroke="#ff7e41"/>
<polygon points="459.14,48.57 476.11,62.72 465.78,56.37" fill="#c8e688" stroke="#c8e688"/>
<polygon points="438.31,40.14 448.69,44.44 455.49,50.46" fill="#ffa95b" stroke="#ffa95b"/>
<polygon points="469.66,54.18 486.5,68.69 476.11,62.72" fill="#acf59a" stroke="#acf59a"/>
<polygon points="410.64,32.91 426.45,34.19 417.85,30.81" fill="#ff2914" stroke="#ff2914"/>
<polygon points="448.69,44.44 459.14,48.57 465.78,56.37" fill="#f6be68" stroke="#f6be68"/>
<polygon points="480.22,60.03 496.93,74.48 486.5,68.69" fill="#92fda9" stroke="#92fda9"/>
<polygon points="419.23,33.47 438.31,40.14 426.45,34.19" fill="#ff4422" stroke="#ff4422"/>
<polygon points="459.14,48.57 469.66,54.18 476.11,62.72" fill="#ded579" stroke="#ded579"/>
<polygon points="490.85,65.6 504.87,76.53 496.93,74.48" fill="#82ffb3" stroke="#82ffb3"/>
<polygon points="410.64,32.91 419.23,33.47 426.45,34.19" fill="#ff2613" stroke="#ff2613"/>
<polygon points="469.66,54.18 480.22,60.03 486.5,68.69" fill="#c4e88a" stroke="#c4e88a"/>
<polygon points="431.17,35.99 448.69,44.44 438.31,40.14" fill="#ff6835" stroke="#ff6835"/>
<polygon points="480.22,60.03 490.85,65.6 496.93,74.48" fill="#acf59a" stroke="#acf59a"/>
<polygon points="419.23,33.47 431.17,35.99 438.31,40.14" fill="#ff4422" stroke="#ff4422"/>
<polygon points="403.23,34.2 419.23,33.47 410.64,32.91" fill="#ff2613" stroke="#ff2613"/>
<polygon points="441.67,38.21 459.14,48.57 448.69,44.44" fill="#ff763d" stroke="#ff763d"/>
<polygon points="490.85,65.6 499.03,63.93 504.87,76.53" fill="#a0faa1" stroke="#a0faa1"/>
<polygon points="431.17,35.99 441.67,38.21 448.69,44.44" fill="#ff4a26" stroke="#ff4a26"/>
<polygon points="452.27,40.45 469.66,54.18 459.14,48.57" fill="#ff8646" stroke="#ff8646"/>
<polygon points="411.93,36.06 431.17,35.99 419.23,33.47" fill="#ff2613" stroke="#ff2613"/>
<polygon points="403.23,34.2 411.93,36.06 419.23,33.47" fill="#ff2613" stroke="#ff2613"/>
<polygon points="393.36,97.78 404.57,41.72 395.86,40.51" fill="#ebca70" stroke="#ebca70"/>
<polygon points="393.36,97.78 400.2,57.26 404.57,41.72" fill="#f0c46c" stroke="#f0c46c"/>
<polygon points="462.96,45.29 480.22,60.03 469.66,54.18" fill="#ff9d53" stroke="#ff9d53"/>
<polygon points="441.67,38.21 452.27,40.45 459.14,48.57" fill="#ff532a" stroke="#ff532a"/>
<polygon points="473.71,51.01 490.85,65.6 480.22,60.03" fill="#ffb05f" stroke="#ffb05f"/>
<polygon points="395.86,40.51 411.93,36.06 403.23,34.2" fill="#ff2613" stroke="#ff2613"/>
<polygon points="423.96,38.62 441.67,38.21 431.17,35.99" fill="#ff2613" stroke="#ff2613"/>
<polygon points="411.93,36.06 423.96,38.62 431.17,35.99" fill="#ff2613" stroke="#ff2613"/>
<polygon points="452.27,40.45 462.96,45.29 469.66,54.18" fill="#ff5f30" stroke="#ff5f30"/>
<polygon points="484.53,56.34 499.03,63.93 490.85,65.6" fill="#eec66d" stroke="#eec66d"/>
<polygon points="462.96,45.29 473.71,51.01 480.22,60.03" fill="#ff6b37" stroke="#ff6b37"/>
<polygon points="395.86,40.51 404.57,41.72 411.93,36.06" fill="#ff2613" stroke="#ff2613"/>
<polygon points="404.57,41.72 423.96,38.62 411.93,36.06" fill="#ff2613" stroke="#ff2613"/>
<polygon points="434.53,40.88 452.27,40.45 441.67,38.21" fill="#ff2613" stroke="#ff2613"/>
<polygon points="423.96,38.62 434.53,40.88 441.67,38.21" fill="#ff2613" stroke="#ff2613"/>
<polygon points="473.71,51.01 484.53,56.34 490.85,65.6" fill="#ff8143" stroke="#ff8143"/>
<polygon points="445.21,43.16 462.96,45.29 452.27,40.45" fill="#ff2613" stroke="#ff2613"/>
<polygon points="404.57,41.72 416.66,43.91 423.96,38.62" fill="#ff2613" stroke="#ff2613"/>
<polygon points="400.2,57.26 416.66,43.91 404.57,41.72" fill="#ff381c" stroke="#ff381c"/>
<polygon points="434.53,40.88 445.21,43.16 452.27,40.45" fill="#ff2613" stroke="#ff2613"/>
<polygon points="416.66,43.91 434.53,40.88 423.96,38.62" fill="#ff2613" stroke="#ff2613"/>
<polygon points="484.53,56.34 492.75,57.68 499.03,63.93" fill="#ffa759" stroke="#ffa759"/>
<polygon points="400.2,57.26 412.22,59.46 416.66,43.91" fill="#ff4422" stroke="#ff4422"/>
<polygon points="456,45.89 473.71,51.01 462.96,45.29" fill="#ff2613" stroke="#ff2613"/>
<polygon points="445.21,43.16 456,45.89 462.96,45.29" fill="#ff2613" stroke="#ff2613"/>
<polygon points="416.66,43.91 427.28,45.78 434.53,40.88" fill="#ff2613" stroke="#ff2613"/>
<polygon points="427.28,45.78 445.21,43.16 434.53,40.88" fill="#ff2613" stroke="#ff2613"/>
<polygon points="412.22,59.46 427.28,45.78 416.66,43.91" fill="#ff351b" stroke="#ff351b"/>
<polygon points="466.88,49.09 484.53,56.34 473.71,51.01" fill="#ff351b" stroke="#ff351b"/>
<polygon points="412.22,59.46 422.79,60.98 427.28,45.78" fill="#ff4121" stroke="#ff4121"/>
<polygon points="456,45.89 466.88,49.09 473.71,51.01" fill="#ff2613" stroke="#ff2613"/>
<polygon points="477.86,53.27 492.75,57.68 484.53,56.34" fill="#ff592d" stroke="#ff592d"/>
<polygon points="427.28,45.78 438.02,47.67 445.21,43.16" fill="#ff2613" stroke="#ff2613"/>
<polygon points="438.02,47.67 456,45.89 445.21,43.16" fill="#ff2613" stroke="#ff2613"/>
<polygon points="422.79,60.98 438.02,47.67 427.28,45.78" fill="#ff351b" stroke="#ff351b"/>
<polygon points="466.88,49.09 477.86,53.27 484.53,56.34" fill="#ff351b" stroke="#ff351b"/>
<polygon points="422.79,60.98 433.47,62.08 438.02,47.67" fill="#ff4121" stroke="#ff4121"/>
<polygon points="448.88,49.58 466.88,49.09 456,45.89" fill="#ff2613" stroke="#ff2613"/>
<polygon points="438.02,47.67 448.88,49.58 456,45.89" fill="#ff2613" stroke="#ff2613"/>
<polygon points="477.86,53.27 486.13,56.88 492.75,57.68" fill="#ff592d" stroke="#ff592d"/>
<polygon points="433.47,62.08 448.88,49.58 438.02,47.67" fill="#ff351b" stroke="#ff351b"/>
<polygon points="433.47,62.08 444.28,63.12 448.88,49.58" fill="#ff4121" stroke="#ff4121"/>
<polygon points="459.85,51.51 477.86,53.27 466.88,49.09" fill="#ff2613" stroke="#ff2613"/>
<polygon points="448.88,49.58 459.85,51.51 466.88,49.09" fill="#ff2613" stroke="#ff2613"/>
<polygon points="444.28,63.12 459.85,51.51 448.88,49.58" fill="#ff351b" stroke="#ff351b"/>
<polygon points="470.94,53.46 486.13,56.88 477.86,53.27" fill="#ff351b" stroke="#ff351b"/>
<polygon points="444.28,63.12 455.22,64.34 459.85,51.51" fill="#ff4121" stroke="#ff4121"/>
<polygon points="459.85,51.51 470.94,53.46 477.86,53.27" fill="#ff2613" stroke="#ff2613"/>
<polygon points="455.22,64.34 470.94,53.46 459.85,51.51" fill="#ff351b" stroke="#ff351b"/>
<polygon points="470.94,53.46 479.35,54.83 486.13,56.88" fill="#ff351b" stroke="#ff351b"/>
<polygon points="455.22,64.34 466.29,65.92 470.94,53.46" fill="#ff4121" stroke="#ff4121"/>
<polygon points="466.29,65.92 479.35,54.83 470.94,53.46" fill="#ff351b" stroke="#ff351b"/>
<polygon points="466.29,65.92 474.67,67.78 479.35,54.83" fill="#ff4121" stroke="#ff4121"/></g>
<g fill="none" stroke="#303030" stroke-width="0.7">
<polyline points="383.47,113.98 476.2,137.53 526.16,97.98 529.7,26.42"/>
<polyline points="387.65,115.04 386.2,116.02"/>
<polyline points="397.69,117.59 396.25,118.58"/>
<polyline points="407.83,120.16 406.4,121.17"/>
<polyline points="418.07,122.76 416.64,123.77"/>
<polyline points="428.4,125.39 426.99,126.41"/>
<polyline points="438.84,128.04 437.44,129.07"/>
<polyline points="449.38,130.72 448,131.76"/>
<polyline points="460.03,133.42 458.66,134.47"/>
<polyline points="470.78,136.15 469.43,137.21"/>
<polyline points="479.07,135.25 481.49,135.86"/>
<polyline points="488.48,127.81 490.87,128.4"/>
<polyline points="497.63,120.56 500,121.14"/>
<polyline points="506.54,113.51 508.89,114.08"/>
<polyline points="515.21,106.65 517.54,107.19"/>
<polyline points="523.66,99.96 525.97,100.49"/>
<polyline points="526.26,95.98 527.86,96.28"/>
<polyline points="526.64,88.21 528.24,88.51"/>
<polyline points="527.03,80.35 528.63,80.65"/>
<polyline points="527.42,72.41 529.02,72.71"/>
<polyline points="527.82,64.38 529.42,64.68"/>
<polyline points="528.23,56.25 529.83,56.55"/>
<polyline points="528.63,48.04 530.23,48.34"/>
<polyline points="529.04,39.74 530.64,40.04"/>
<polyline points="529.46,31.34 531.06,31.64"/>
</g>
<g class="tk" font-size="4.0" text-anchor="middle">
<text transform="translate(385.65,123.28) scale(0.8,1)">0</text>
<text transform="translate(395.69,125.83) scale(0.8,1)">10</text>
<text transform="translate(405.83,128.4) scale(0.8,1)">20</text>
<text transform="translate(416.07,131) scale(0.8,1)">30</text>
<text transform="translate(426.4,133.63) scale(0.8,1)">40</text>
<text transform="translate(436.84,136.28) scale(0.8,1)">50</text>
<text transform="translate(447.38,138.96) scale(0.8,1)">60</text>
<text transform="translate(458.03,141.66) scale(0.8,1)">70</text>
<text transform="translate(468.78,144.39) scale(0.8,1)">80</text>
<text transform="translate(483.27,142.89) scale(0.8,1)">0.0</text>
<text transform="translate(492.68,135.45) scale(0.8,1)">0.2</text>
<text transform="translate(501.83,128.2) scale(0.8,1)">0.4</text>
<text transform="translate(510.74,121.15) scale(0.8,1)">0.6</text>
<text transform="translate(519.41,114.29) scale(0.8,1)">0.8</text>
<text transform="translate(527.86,107.6) scale(0.8,1)">1.0</text>
</g><g class="tk" font-size="4.0" text-anchor="start">
<text transform="translate(529.26,98.42) scale(0.8,1)">0.66</text>
<text transform="translate(529.64,90.65) scale(0.8,1)">0.67</text>
<text transform="translate(530.03,82.79) scale(0.8,1)">0.68</text>
<text transform="translate(530.42,74.85) scale(0.8,1)">0.69</text>
<text transform="translate(530.82,66.82) scale(0.8,1)">0.70</text>
<text transform="translate(531.23,58.69) scale(0.8,1)">0.71</text>
<text transform="translate(531.63,50.48) scale(0.8,1)">0.72</text>
<text transform="translate(532.04,42.18) scale(0.8,1)">0.73</text>
<text transform="translate(532.46,33.78) scale(0.8,1)">0.74</text>
</g>
</g>
<g id="pd">
<rect x="22.4" y="179.5" width="223.0" height="114.5" fill="#fff" stroke="#808080" stroke-width="0.8"/>
<polyline fill="none" stroke="#1f77b4" stroke-width="0.9" points="32.4,184.6 61.5,184.6 90.6,184.6 119.7,193.3 148.8,288.4 177.9,288.4 207,288.4 236.1,288.4"/>
<circle cx="32.4" cy="184.6" r="1.5" fill="#1f77b4"/>
<circle cx="61.5" cy="184.6" r="1.5" fill="#1f77b4"/>
<circle cx="90.6" cy="184.6" r="1.5" fill="#1f77b4"/>
<circle cx="119.7" cy="193.3" r="1.5" fill="#1f77b4"/>
<circle cx="148.8" cy="288.4" r="1.5" fill="#1f77b4"/>
<circle cx="177.9" cy="288.4" r="1.5" fill="#1f77b4"/>
<circle cx="207" cy="288.4" r="1.5" fill="#1f77b4"/>
<circle cx="236.1" cy="288.4" r="1.5" fill="#1f77b4"/>
<g stroke="#222" stroke-width="0.4">
<line x1="32.4" y1="294" x2="32.4" y2="295.6"/>
<line x1="61.5" y1="294" x2="61.5" y2="295.6"/>
<line x1="90.6" y1="294" x2="90.6" y2="295.6"/>
<line x1="119.7" y1="294" x2="119.7" y2="295.6"/>
<line x1="148.8" y1="294" x2="148.8" y2="295.6"/>
<line x1="177.9" y1="294" x2="177.9" y2="295.6"/>
<line x1="207" y1="294" x2="207" y2="295.6"/>
<line x1="236.1" y1="294" x2="236.1" y2="295.6"/>
<line x1="23.64" y1="294" x2="23.64" y2="294.9"/>
<line x1="25.94" y1="294" x2="25.94" y2="294.9"/>
<line x1="27.89" y1="294" x2="27.89" y2="294.9"/>
<line x1="29.58" y1="294" x2="29.58" y2="294.9"/>
<line x1="31.07" y1="294" x2="31.07" y2="294.9"/>
<line x1="41.16" y1="294" x2="41.16" y2="294.9"/>
<line x1="46.28" y1="294" x2="46.28" y2="294.9"/>
<line x1="49.92" y1="294" x2="49.92" y2="294.9"/>
<line x1="52.74" y1="294" x2="52.74" y2="294.9"/>
<line x1="55.04" y1="294" x2="55.04" y2="294.9"/>
<line x1="56.99" y1="294" x2="56.99" y2="294.9"/>
<line x1="58.68" y1="294" x2="58.68" y2="294.9"/>
<line x1="60.17" y1="294" x2="60.17" y2="294.9"/>
<line x1="70.26" y1="294" x2="70.26" y2="294.9"/>
<line x1="75.38" y1="294" x2="75.38" y2="294.9"/>
<line x1="79.02" y1="294" x2="79.02" y2="294.9"/>
<line x1="81.84" y1="294" x2="81.84" y2="294.9"/>
<line x1="84.14" y1="294" x2="84.14" y2="294.9"/>
<line x1="86.09" y1="294" x2="86.09" y2="294.9"/>
<line x1="87.78" y1="294" x2="87.78" y2="294.9"/>
<line x1="89.27" y1="294" x2="89.27" y2="294.9"/>
<line x1="99.36" y1="294" x2="99.36" y2="294.9"/>
<line x1="104.48" y1="294" x2="104.48" y2="294.9"/>
<line x1="108.12" y1="294" x2="108.12" y2="294.9"/>
<line x1="110.94" y1="294" x2="110.94" y2="294.9"/>
<line x1="113.24" y1="294" x2="113.24" y2="294.9"/>
<line x1="115.19" y1="294" x2="115.19" y2="294.9"/>
<line x1="116.88" y1="294" x2="116.88" y2="294.9"/>
<line x1="118.37" y1="294" x2="118.37" y2="294.9"/>
<line x1="128.46" y1="294" x2="128.46" y2="294.9"/>
<line x1="133.58" y1="294" x2="133.58" y2="294.9"/>
<line x1="137.22" y1="294" x2="137.22" y2="294.9"/>
<line x1="140.04" y1="294" x2="140.04" y2="294.9"/>
<line x1="142.34" y1="294" x2="142.34" y2="294.9"/>
<line x1="144.29" y1="294" x2="144.29" y2="294.9"/>
<line x1="145.98" y1="294" x2="145.98" y2="294.9"/>
<line x1="147.47" y1="294" x2="147.47" y2="294.9"/>
<line x1="157.56" y1="294" x2="157.56" y2="294.9"/>
<line x1="162.68" y1="294" x2="162.68" y2="294.9"/>
<line x1="166.32" y1="294" x2="166.32" y2="294.9"/>
<line x1="169.14" y1="294" x2="169.14" y2="294.9"/>
<line x1="171.44" y1="294" x2="171.44" y2="294.9"/>
<line x1="173.39" y1="294" x2="173.39" y2="294.9"/>
<line x1="175.08" y1="294" x2="175.08" y2="294.9"/>
<line x1="176.57" y1="294" x2="176.57" y2="294.9"/>
<line x1="186.66" y1="294" x2="186.66" y2="294.9"/>
<line x1="191.78" y1="294" x2="191.78" y2="294.9"/>
<line x1="195.42" y1="294" x2="195.42" y2="294.9"/>
<line x1="198.24" y1="294" x2="198.24" y2="294.9"/>
<line x1="200.54" y1="294" x2="200.54" y2="294.9"/>
<line x1="202.49" y1="294" x2="202.49" y2="294.9"/>
<line x1="204.18" y1="294" x2="204.18" y2="294.9"/>
<line x1="205.67" y1="294" x2="205.67" y2="294.9"/>
<line x1="215.76" y1="294" x2="215.76" y2="294.9"/>
<line x1="220.88" y1="294" x2="220.88" y2="294.9"/>
<line x1="224.52" y1="294" x2="224.52" y2="294.9"/>
<line x1="227.34" y1="294" x2="227.34" y2="294.9"/>
<line x1="229.64" y1="294" x2="229.64" y2="294.9"/>
<line x1="231.59" y1="294" x2="231.59" y2="294.9"/>
<line x1="233.28" y1="294" x2="233.28" y2="294.9"/>
<line x1="234.77" y1="294" x2="234.77" y2="294.9"/>
<line x1="244.86" y1="294" x2="244.86" y2="294.9"/>
<line x1="20.799999999999997" y1="193.3" x2="22.4" y2="193.3"/>
<line x1="20.799999999999997" y1="208.7" x2="22.4" y2="208.7"/>
<line x1="20.799999999999997" y1="223.9" x2="22.4" y2="223.9"/>
<line x1="20.799999999999997" y1="239.2" x2="22.4" y2="239.2"/>
<line x1="20.799999999999997" y1="254.5" x2="22.4" y2="254.5"/>
<line x1="20.799999999999997" y1="269.8" x2="22.4" y2="269.8"/>
<line x1="20.799999999999997" y1="285.1" x2="22.4" y2="285.1"/>
</g>
<g class="tk" font-size="4.4" text-anchor="end">
<text transform="translate(19.2,194.8) scale(0.88,1)">0.6</text>
<text transform="translate(19.2,210.2) scale(0.88,1)">0.5</text>
<text transform="translate(19.2,225.4) scale(0.88,1)">0.4</text>
<text transform="translate(19.2,240.7) scale(0.88,1)">0.3</text>
<text transform="translate(19.2,256) scale(0.88,1)">0.2</text>
<text transform="translate(19.2,271.3) scale(0.88,1)">0.1</text>
<text transform="translate(19.2,286.6) scale(0.88,1)">0.0</text>
</g>
<g class="tk" font-size="4.4" text-anchor="middle">
<text transform="translate(32.4,301.6) scale(0.88,1)">10<tspan dy="-1.7" font-size="2.9">−4</tspan></text>
<text transform="translate(61.5,301.6) scale(0.88,1)">10<tspan dy="-1.7" font-size="2.9">−3</tspan></text>
<text transform="translate(90.6,301.6) scale(0.88,1)">10<tspan dy="-1.7" font-size="2.9">−2</tspan></text>
<text transform="translate(119.7,301.6) scale(0.88,1)">10<tspan dy="-1.7" font-size="2.9">−1</tspan></text>
<text transform="translate(148.8,301.6) scale(0.88,1)">10<tspan dy="-1.7" font-size="2.9">0</tspan></text>
<text transform="translate(177.9,301.6) scale(0.88,1)">10<tspan dy="-1.7" font-size="2.9">1</tspan></text>
<text transform="translate(207,301.6) scale(0.88,1)">10<tspan dy="-1.7" font-size="2.9">2</tspan></text>
<text transform="translate(236.1,301.6) scale(0.88,1)">10<tspan dy="-1.7" font-size="2.9">3</tspan></text>
</g>
</g>
<g id="pe">
<rect x="285.7" y="179.5" width="224.5" height="114.5" fill="#fff"/>
<g stroke="#c6c6c6" stroke-width="0.55">
<line x1="296.1" y1="179.5" x2="296.1" y2="294"/>
<line x1="317.5" y1="179.5" x2="317.5" y2="294"/>
<line x1="338.9" y1="179.5" x2="338.9" y2="294"/>
<line x1="360.3" y1="179.5" x2="360.3" y2="294"/>
<line x1="381.7" y1="179.5" x2="381.7" y2="294"/>
<line x1="403.1" y1="179.5" x2="403.1" y2="294"/>
<line x1="424.5" y1="179.5" x2="424.5" y2="294"/>
<line x1="445.9" y1="179.5" x2="445.9" y2="294"/>
<line x1="467.3" y1="179.5" x2="467.3" y2="294"/>
<line x1="488.7" y1="179.5" x2="488.7" y2="294"/>
<line x1="285.7" y1="279.15" x2="510.2" y2="279.15"/>
<line x1="285.7" y1="260.8" x2="510.2" y2="260.8"/>
<line x1="285.7" y1="242.45" x2="510.2" y2="242.45"/>
<line x1="285.7" y1="224.1" x2="510.2" y2="224.1"/>
<line x1="285.7" y1="205.75" x2="510.2" y2="205.75"/>
<line x1="285.7" y1="187.4" x2="510.2" y2="187.4"/>
</g>
<polyline fill="none" stroke="#1f77b4" stroke-width="0.95" stroke-linejoin="round" points="296.1,286.49 306.8,207.58 317.5,191.99 328.2,196.57 338.9,191.99 349.6,203 360.3,201.16 371,199.33 381.7,198.41 392.4,197.49 403.1,193.82 413.8,193.82 424.5,193.82 435.2,194.74 445.9,197.49 456.6,199.33 467.3,203.91 478,207.58 488.7,209.42 499.4,211.25"/>
<polyline fill="none" stroke="#ff7f0e" stroke-width="0.95" stroke-linejoin="round" points="296.1,284.65 306.8,203 317.5,188.32 328.2,187.4 338.9,185.56 349.6,191.07 360.3,191.99 371,190.15 381.7,190.15 392.4,189.24 403.1,187.4 413.8,187.4 424.5,187.4 435.2,188.32 445.9,189.24 456.6,191.07 467.3,193.82 478,195.66 488.7,196.57 499.4,197.49"/>
<polyline fill="none" stroke="#2ca02c" stroke-width="0.95" stroke-linejoin="round" points="296.1,287.41 306.8,208.5 317.5,195.66 328.2,199.33 338.9,197.49 349.6,198.41 360.3,204.83 371,206.67 381.7,204.83 392.4,203 403.1,200.24 413.8,199.33 424.5,199.33 435.2,200.24 445.9,203 456.6,203.91 467.3,206.67 478,209.42 488.7,212.17 499.4,214.92"/>
<polyline fill="none" stroke="#d62728" stroke-width="0.95" stroke-linejoin="round" points="296.1,283.74 306.8,202.08 317.5,187.4 328.2,187.4 338.9,186.48 349.6,186.48 360.3,191.99 371,193.82 381.7,193.82 392.4,192.91 403.1,190.15 413.8,189.24 424.5,189.24 435.2,190.15 445.9,191.99 456.6,192.91 467.3,193.82 478,195.66 488.7,197.49 499.4,198.41"/>
<polyline fill="none" stroke="#9467bd" stroke-width="0.95" stroke-linejoin="round" points="296.1,288.32 306.8,206.67 317.5,191.07 328.2,196.57 338.9,198.41 349.6,195.66 360.3,204.83 371,206.67 381.7,204.83 392.4,202.08 403.1,201.16 413.8,201.16 424.5,203 435.2,201.16 445.9,203 456.6,204.83 467.3,208.5 478,209.42 488.7,211.25 499.4,214.01"/>
<polyline fill="none" stroke="#8c564b" stroke-width="0.95" stroke-linejoin="round" points="296.1,285.57 306.8,201.16 317.5,183.73 328.2,184.65 338.9,186.48 349.6,186.48 360.3,191.99 371,192.91 381.7,192.91 392.4,191.07 403.1,190.15 413.8,190.15 424.5,190.15 435.2,191.07 445.9,191.99 456.6,192.91 467.3,194.74 478,195.66 488.7,197.49 499.4,198.41"/>
<rect x="285.7" y="179.5" width="224.5" height="114.5" fill="none" stroke="#808080" stroke-width="0.8"/>
<g stroke="#222" stroke-width="0.4">
<line x1="296.1" y1="294" x2="296.1" y2="295.6"/>
<line x1="317.5" y1="294" x2="317.5" y2="295.6"/>
<line x1="338.9" y1="294" x2="338.9" y2="295.6"/>
<line x1="360.3" y1="294" x2="360.3" y2="295.6"/>
<line x1="381.7" y1="294" x2="381.7" y2="295.6"/>
<line x1="403.1" y1="294" x2="403.1" y2="295.6"/>
<line x1="424.5" y1="294" x2="424.5" y2="295.6"/>
<line x1="445.9" y1="294" x2="445.9" y2="295.6"/>
<line x1="467.3" y1="294" x2="467.3" y2="295.6"/>
<line x1="488.7" y1="294" x2="488.7" y2="295.6"/>
<line x1="284.09999999999997" y1="279.15" x2="285.7" y2="279.15"/>
<line x1="284.09999999999997" y1="260.8" x2="285.7" y2="260.8"/>
<line x1="284.09999999999997" y1="242.45" x2="285.7" y2="242.45"/>
<line x1="284.09999999999997" y1="224.1" x2="285.7" y2="224.1"/>
<line x1="284.09999999999997" y1="205.75" x2="285.7" y2="205.75"/>
<line x1="284.09999999999997" y1="187.4" x2="285.7" y2="187.4"/>
</g>
<g class="tk" font-size="4.8" text-anchor="end">
<text transform="translate(282.7,280.8) scale(0.74,1)">0.72</text>
<text transform="translate(282.7,262.45) scale(0.74,1)">0.74</text>
<text transform="translate(282.7,244.1) scale(0.74,1)">0.76</text>
<text transform="translate(282.7,225.75) scale(0.74,1)">0.78</text>
<text transform="translate(282.7,207.4) scale(0.74,1)">0.80</text>
<text transform="translate(282.7,189.05) scale(0.74,1)">0.82</text>
</g><g class="tk" font-size="4.8" text-anchor="middle">
<text transform="translate(296.1,300.2) scale(0.74,1)">1</text>
<text transform="translate(317.5,300.2) scale(0.74,1)">3</text>
<text transform="translate(338.9,300.2) scale(0.74,1)">5</text>
<text transform="translate(360.3,300.2) scale(0.74,1)">7</text>
<text transform="translate(381.7,300.2) scale(0.74,1)">9</text>
<text transform="translate(403.1,300.2) scale(0.74,1)">11</text>
<text transform="translate(424.5,300.2) scale(0.74,1)">13</text>
<text transform="translate(445.9,300.2) scale(0.74,1)">15</text>
<text transform="translate(467.3,300.2) scale(0.74,1)">17</text>
<text transform="translate(488.7,300.2) scale(0.74,1)">19</text>
</g>
<rect x="444.1" y="252.4" width="64.5" height="38.6" rx="0.8" fill="#fff" fill-opacity="0.85" stroke="#ccc" stroke-width="0.5"/>
<g class="tk" font-size="4.3">
<line x1="445.5" y1="255.9" x2="453.7" y2="255.9" stroke="#1f77b4" stroke-width="1" stroke-opacity="0.6"/>
<text transform="translate(457,257.4) scale(0.94,1)">p=1, weights='uniform'</text>
<line x1="445.5" y1="262.26" x2="453.7" y2="262.26" stroke="#ff7f0e" stroke-width="1" stroke-opacity="0.6"/>
<text transform="translate(457,263.76) scale(0.94,1)">p=1, weights='distance'</text>
<line x1="445.5" y1="268.62" x2="453.7" y2="268.62" stroke="#2ca02c" stroke-width="1" stroke-opacity="0.6"/>
<text transform="translate(457,270.12) scale(0.94,1)">p=2, weights='uniform'</text>
<line x1="445.5" y1="274.98" x2="453.7" y2="274.98" stroke="#d62728" stroke-width="1" stroke-opacity="0.6"/>
<text transform="translate(457,276.48) scale(0.94,1)">p=2, weights='distance'</text>
<line x1="445.5" y1="281.34" x2="453.7" y2="281.34" stroke="#9467bd" stroke-width="1" stroke-opacity="0.6"/>
<text transform="translate(457,282.84) scale(0.94,1)">p=3, weights='uniform'</text>
<line x1="445.5" y1="287.7" x2="453.7" y2="287.7" stroke="#8c564b" stroke-width="1" stroke-opacity="0.6"/>
<text transform="translate(457,289.2) scale(0.94,1)">p=3, weights='distance'</text>
</g>
</g>
<text class="ttl" transform="translate(97.8,12.0) skewY(8.7) skewX(3) scale(0.737,1)" font-size="12.5" stroke="#111" stroke-width="0.4">BPNN</text>
<text class="ttl" transform="translate(296.2,14.2) skewY(9) skewX(3) scale(0.636,1)" font-size="12.5" stroke="#111" stroke-width="0.4">RF</text>
<text class="ttl" transform="translate(475.3,12.2) skewY(8.3) skewX(3) scale(0.681,1)" font-size="12.5" stroke="#111" stroke-width="0.4">SVR</text>
<text class="ttl" transform="translate(114.7,175.7) skewY(0) skewX(0) scale(0.760,1)" font-size="12.5" stroke="#111" stroke-width="0.4">LASSO</text>
<text class="ttl" transform="translate(388.1,175.7) skewY(0) skewX(0) scale(0.807,1)" font-size="12.5" stroke="#111" stroke-width="0.4">KNN</text>
<text class="lab" x="4.1" y="12.9" font-size="9.6" textLength="12.3" lengthAdjust="spacingAndGlyphs">(a)</text>
<text class="lab" x="200.4" y="12.9" font-size="9.6" textLength="12.3" lengthAdjust="spacingAndGlyphs">(b)</text>
<text class="lab" x="385.6" y="12.9" font-size="9.6" textLength="11.5" lengthAdjust="spacingAndGlyphs">(c)</text>
<text class="lab" x="9.8" y="174.6" font-size="9.6" textLength="12.6" lengthAdjust="spacingAndGlyphs">(d)</text>
<text class="lab" x="275" y="174.9" font-size="10.5" textLength="12.5" lengthAdjust="spacingAndGlyphs" style="font-family:'Liberation Serif',serif">(e)</text>
<text class="ax" transform="translate(27.6,137.2) rotate(13) scale(0.806,1)" font-size="7.6" font-style="italic" stroke="#222" stroke-width="0.2">Hidden Layers</text>
<text class="ax" transform="translate(124.4,144.3) rotate(-40) scale(0.842,1)" font-size="7.4" stroke="#222" stroke-width="0.2">Hidden Nodes</text>
<text class="ax" transform="translate(222.4,139.6) rotate(13) scale(0.859,1)" font-size="7.6" font-style="italic" stroke="#222" stroke-width="0.2">Max depth</text>
<text class="ax" transform="translate(315,145.5) rotate(-38.5) scale(0.895,1)" font-size="7.4" stroke="#222" stroke-width="0.2">Number of trees</text>
<text class="ax" transform="translate(421.6,142.0) rotate(0) scale(0.709,1)" font-size="8.2" stroke="#222" stroke-width="0.2">C</text>
<text class="ax" transform="translate(506,134.5) rotate(-40) scale(0.912,1)" font-size="7.4" stroke="#222" stroke-width="0.2">gamma</text>
<text class="ax" transform="translate(170.2,56.4) scale(0.72,1)" font-size="7" stroke="#222" stroke-width="0.3">R<tspan dy="-2.4" font-size="4.2">2</tspan></text>
<text class="ax" transform="translate(360.6,54.7) scale(0.72,1)" font-size="7" stroke="#222" stroke-width="0.3">R<tspan dy="-2.4" font-size="4.2">2</tspan></text>
<text class="ax" transform="translate(542.6,54.4) scale(0.72,1)" font-size="7" stroke="#222" stroke-width="0.3">R<tspan dy="-2.4" font-size="4.2">2</tspan></text>
<text class="ax" transform="translate(5.4,231.6) scale(0.85,1)" font-size="6.3" stroke="#222" stroke-width="0.3">R<tspan dy="-2.4" font-size="3.78">2</tspan></text>
<text class="ax" transform="translate(264.0,230.2) scale(0.85,1)" font-size="6.3" stroke="#222" stroke-width="0.3">R<tspan dy="-2.4" font-size="3.78">2</tspan></text>
<text class="ax" transform="translate(125.8,309.5) rotate(0) scale(0.992,1)" font-size="6.8" stroke="#222" stroke-width="0.2">alpha</text>
<text class="ax" transform="translate(393.0,309.0) rotate(0) scale(0.895,1)" font-size="6.8" stroke="#222" stroke-width="0.2">K value</text>
</svg></body></html>
